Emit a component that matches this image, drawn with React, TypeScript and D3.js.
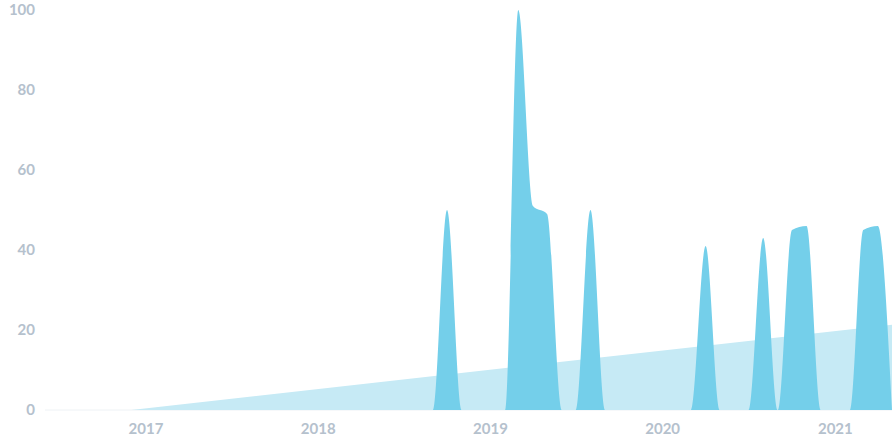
import { useEffect, useRef } from 'react'
import * as d3 from 'd3'

// monthly interest, 2016-06 .. 2021-05
const START = '2016-06-01'
const END = '2021-05-01'
const VALUES = [
  0, 0, 0, 0, 0, 0, 0,                       // 2016 Jun-Dec
  0, 0, 0, 0, 0, 0, 0, 0, 0, 0, 0, 0,        // 2017
  0, 0, 0, 0, 0, 0, 0, 0, 0, 50, 0, 0,       // 2018
  0, 0, 100, 51, 49, 0, 0, 50, 0, 0, 0, 0,   // 2019
  0, 0, 0, 41, 0, 0, 0, 43, 0, 45, 46, 0,    // 2020
  0, 0, 45, 46, 0,                           // 2021 Jan-May
]

// trend line
const TREND_DATES = ['2016-06-01', '2016-12-01', '2021-05-01']
const TREND_VALUES = [0, 0, 21.3]

const Y_TICKS = [0, 20, 40, 60, 80, 100]
const X_TICKS = ['2017', '2018', '2019', '2020', '2021']

const W = 896
const H = 448
const MARGIN = { top: 10, right: 4, bottom: 38, left: 45 }

const LABEL = '#b5c1cd'
const SPIKE = '#74cfea'
const TREND = '#c6eaf5'

export default function App() {
  const svgRef = useRef<SVGSVGElement>(null)

  useEffect(() => {
    if (!svgRef.current) return
    const svg = d3.select(svgRef.current)
    svg.selectAll('*').remove()

    const parse = d3.utcParse('%Y-%m-%d')
    const x = d3.scaleUtc()
      .domain([parse(START)!, parse(END)!])
      .range([MARGIN.left, W - MARGIN.right])
    const y = d3.scaleLinear().domain([0, 100]).range([H - MARGIN.bottom, MARGIN.top])

    const months = d3.utcMonth.range(parse(START)!, d3.utcMonth.offset(parse(END)!, 1))
    const series = months.map((d, i) => ({ d, v: VALUES[i] ?? 0 }))
    const trend = TREND_DATES.map((s, i) => ({ d: parse(s)!, v: TREND_VALUES[i] }))

    // baseline
    svg.append('line')
      .attr('x1', x.range()[0]).attr('x2', x.range()[1])
      .attr('y1', y(0)).attr('y2', y(0))
      .attr('stroke', '#eef2f5').attr('stroke-width', 1)

    const trendArea = d3.area<{ d: Date; v: number }>()
      .x(p => x(p.d)).y0(y(0)).y1(p => y(p.v))
    svg.append('path').datum(trend).attr('d', trendArea).attr('fill', TREND)

    const spikeArea = d3.area<{ d: Date; v: number }>()
      .x(p => x(p.d)).y0(y(0)).y1(p => y(p.v))
      .curve(d3.curveMonotoneX)
    svg.append('path').datum(series).attr('d', spikeArea).attr('fill', SPIKE)

    const font = 'Lato, "Open Sans", sans-serif'

    svg.append('g').selectAll('text')
      .data(Y_TICKS)
      .join('text')
      .attr('x', 35).attr('y', d => y(d) + 4.5)
      .attr('text-anchor', 'end')
      .style('fill', LABEL).style('font-family', font)
      .style('font-weight', '700').style('font-size', '15px')
      .text(d => d)

    svg.append('g').selectAll('text')
      .data(X_TICKS)
      .join('text')
      .attr('x', d => x(parse(`${d}-01-01`)!)).attr('y', 434)
      .attr('text-anchor', 'middle')
      .style('fill', LABEL).style('font-family', font)
      .style('font-weight', '700').style('font-size', '15px')
      .text(d => d)
  }, [])

  return (
    <div style={{ position: 'fixed', left: 0, top: 0, width: W, height: H, background: '#fff' }}>
      <svg ref={svgRef} width={W} height={H} style={{ display: 'block' }} />
    </div>
  )
}
